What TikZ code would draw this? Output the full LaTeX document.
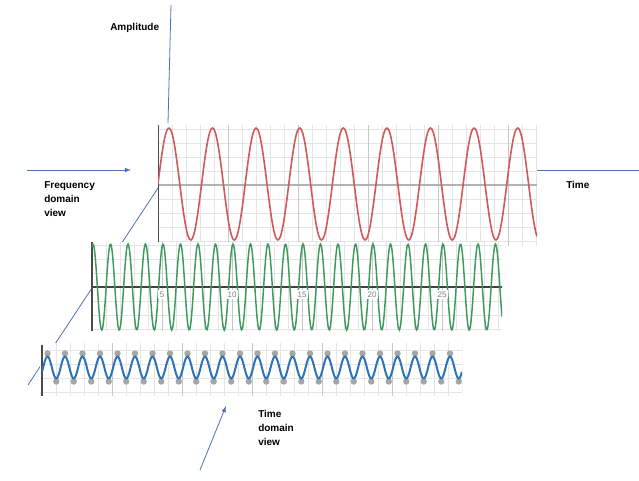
\documentclass[tikz,border=0pt]{standalone}
\usepackage{fontspec}
\setmainfont{Liberation Sans}
\definecolor{redc}{HTML}{D05A5A}
\definecolor{greenc}{HTML}{3E9A5C}
\definecolor{bluec}{HTML}{2E72B8}
\begin{document}
\begin{tikzpicture}[x=0.75pt,y=-0.75pt,
  lbl/.style={font=\bfseries\fontsize{7.5}{10.5}\selectfont,align=left,anchor=north west,inner sep=0pt},
  ax/.style={draw=black!70,line width=1pt},
  minorg/.style={draw=black!10,line width=0.5pt},
  majorg/.style={draw=black!22,line width=0.6pt},
  guide/.style={draw=cyan!45!blue!70!gray,line width=0.6pt},
  tick/.style={font=\fontsize{6}{7}\selectfont,text=black!50,inner sep=1pt}]
\useasboundingbox (0,0) rectangle (639,480);
% guide lines
\coordinate (o) at (160,185);
\coordinate (d) at (28,385);
\draw[guide] (o) -- (d);
\coordinate (a1) at (171,5); \coordinate (a2) at (168,123);
\draw[guide] (a1) -- (a2);
\coordinate (f1) at (27,170); \coordinate (f2) at (131,170);
\draw[guide,-latex] (f1) -- (f2);
\coordinate (t1) at (537,170); \coordinate (t2) at (639,170);
\draw[guide] (t1) -- (t2);
\coordinate (b1) at (200,470); \coordinate (b2) at (226,406);
\draw[guide,-latex] (b1) -- (b2);
% red panel
\begin{scope}
\clip (158,125) rectangle (537,246);
\fill[white] (158,125) rectangle (537,246);
\foreach \x in {158,172,...,540} \draw[minorg] (\x,125) -- (\x,246);
\foreach \y in {129,143,...,246} \draw[minorg] (158,\y) -- (537,\y);
\foreach \x in {228,298,...,540} \draw[majorg] (\x,125) -- (\x,246);
\draw[black!30,line width=0.8pt] (158,185) -- (537,185);
\draw[ax] (158,125) -- (158,246);
\draw[redc,line width=1.2pt,smooth] plot[domain=158:537,samples=300] (\x,{184-56*sin(8.2569*(\x-158))});
\end{scope}
% green panel
\begin{scope}
\clip (91,242) rectangle (502,331);
\fill[white] (91,242) rectangle (502,331);
\foreach \x in {92,106,...,505} \draw[minorg] (\x,242) -- (\x,331);
\foreach \y in {245,259,...,331} \draw[minorg] (91,\y) -- (502,\y);
\foreach \x in {162,232,...,505} \draw[majorg] (\x,242) -- (\x,331);
\draw[black!75,line width=0.9pt] (92,287) -- (502,287);
\draw[ax] (92,242) -- (92,331);
\draw[greenc,line width=1.1pt,smooth] plot[domain=92:502,samples=500] (\x,{287-43*cos(20.5714*(\x-93))});
\foreach \n [count=\i] in {5,10,15,20,25,30}
  \node[tick,fill=white,anchor=north] (tk\i) at ({92+70*\i},290) {\n};
\end{scope}
% blue panel
\begin{scope}
\clip (40,343) rectangle (462,396);
\fill[white] (40,343) rectangle (462,396);
\foreach \x in {42,56,...,465} \draw[minorg] (\x,343) -- (\x,396);
\foreach \y in {350,364,378,392} \draw[minorg] (40,\y) -- (462,\y);
\foreach \x in {112,182,...,465} \draw[majorg] (\x,343) -- (\x,396);
\draw[ax] (42,345) -- (42,396);
\foreach \k in {0,...,23} {
  \fill[black!35] ({47.5+17.5*\k},353.5) circle (3.2);
  \fill[black!35] ({56.25+17.5*\k},381.5) circle (3.2);
}
\draw[bluec,line width=1.5pt,smooth] plot[domain=42:462,samples=500] (\x,{367.5-11*cos(20.5714*(\x-47.5))});
\end{scope}
% labels
\node[lbl] (amp) at (110,23) {Amplitude};
\node[lbl] (freq) at (44,181) {Frequency\\domain\\view};
\node[lbl] (time) at (566,181) {Time};
\node[lbl] (tdv) at (258,410) {Time\\domain\\view};
\end{tikzpicture}
\end{document}
